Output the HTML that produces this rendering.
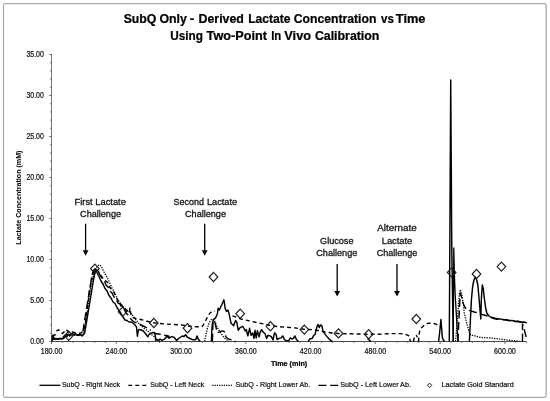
<!DOCTYPE html>
<html lang="en"><head><meta charset="utf-8"><title>SubQ Only - Derived Lactate Concentration vs Time</title>
<style>html,body{margin:0;padding:0;background:#fff;}body{width:550px;height:401px;overflow:hidden;}svg{display:block;}text{font-family:"Liberation Sans", "DejaVu Sans", sans-serif;}</style>
</head><body>
<svg width="550" height="401" viewBox="0 0 550 401">
<defs><filter id="soft" x="0" y="0" width="550" height="401" filterUnits="userSpaceOnUse"><feGaussianBlur stdDeviation="0.35"/></filter></defs>
<rect x="0" y="0" width="550" height="401" fill="#fff"/>
<g filter="url(#soft)">
<rect x="3.5" y="3.7" width="542.7" height="393.6" rx="1.5" fill="#fff" stroke="#a6a6a6" stroke-width="1.2"/>
<text y="23.0" font-size="11.90" font-weight="bold" fill="#000" stroke="#000" stroke-width="0.22"><tspan x="123.7" textLength="32.7" lengthAdjust="spacingAndGlyphs">SubQ</tspan> <tspan x="159.4" textLength="27.4" lengthAdjust="spacingAndGlyphs">Only</tspan> <tspan x="189.8" textLength="4.6" lengthAdjust="spacingAndGlyphs">-</tspan> <tspan x="198.5" textLength="45.4" lengthAdjust="spacingAndGlyphs">Derived</tspan> <tspan x="248.2" textLength="42.4" lengthAdjust="spacingAndGlyphs">Lactate</tspan> <tspan x="293.8" textLength="82.6" lengthAdjust="spacingAndGlyphs">Concentration</tspan> <tspan x="381.1" textLength="12.8" lengthAdjust="spacingAndGlyphs">vs</tspan> <tspan x="395.8" textLength="29.7" lengthAdjust="spacingAndGlyphs">Time</tspan></text>
<text y="40.3" font-size="11.90" font-weight="bold" fill="#000" stroke="#000" stroke-width="0.22"><tspan x="170.3" textLength="32.7" lengthAdjust="spacingAndGlyphs">Using</tspan> <tspan x="206.6" textLength="60.5" lengthAdjust="spacingAndGlyphs">Two-Point</tspan> <tspan x="271.2" textLength="10.1" lengthAdjust="spacingAndGlyphs">In</tspan> <tspan x="284.3" textLength="26.8" lengthAdjust="spacingAndGlyphs">Vivo</tspan> <tspan x="314.9" textLength="64.5" lengthAdjust="spacingAndGlyphs">Calibration</tspan></text>
<g stroke="#757575" stroke-width="1" fill="none">
<path d="M51.5 54 V342"/>
<path d="M51 341.5 H526.5" stroke="#4a4a4a" stroke-width="1"/>
<path d="M49.2 341.5 H51.5M50 333.3 H51.5M50 325.1 H51.5M50 316.9 H51.5M50 308.7 H51.5M49.2 300.5 H51.5M50 292.3 H51.5M50 284.1 H51.5M50 275.9 H51.5M50 267.7 H51.5M49.2 259.5 H51.5M50 251.3 H51.5M50 243.1 H51.5M50 234.9 H51.5M50 226.7 H51.5M49.2 218.5 H51.5M50 210.3 H51.5M50 202.1 H51.5M50 193.9 H51.5M50 185.7 H51.5M49.2 177.5 H51.5M50 169.3 H51.5M50 161.1 H51.5M50 152.9 H51.5M50 144.7 H51.5M49.2 136.5 H51.5M50 128.3 H51.5M50 120.1 H51.5M50 111.9 H51.5M50 103.7 H51.5M49.2 95.5 H51.5M50 87.3 H51.5M50 79.1 H51.5M50 70.9 H51.5M50 62.7 H51.5M49.2 54.5 H51.5"/>
<path d="M51.5 341.5 V344M62.3 341.5 V343M73.1 341.5 V343M83.9 341.5 V343M94.7 341.5 V343M105.5 341.5 V343M116.3 341.5 V344M127.1 341.5 V343M137.9 341.5 V343M148.7 341.5 V343M159.4 341.5 V343M170.2 341.5 V343M181.0 341.5 V344M191.8 341.5 V343M202.6 341.5 V343M213.4 341.5 V343M224.2 341.5 V343M235.0 341.5 V343M245.8 341.5 V344M256.6 341.5 V343M267.4 341.5 V343M278.2 341.5 V343M289.0 341.5 V343M299.8 341.5 V343M310.6 341.5 V344M321.4 341.5 V343M332.2 341.5 V343M343.0 341.5 V343M353.8 341.5 V343M364.6 341.5 V343M375.3 341.5 V344M386.1 341.5 V343M396.9 341.5 V343M407.7 341.5 V343M418.5 341.5 V343M429.3 341.5 V343M440.1 341.5 V344M450.9 341.5 V343M461.7 341.5 V343M472.5 341.5 V343M483.3 341.5 V343M494.1 341.5 V343M504.9 341.5 V344M515.7 341.5 V343M526.5 341.5 V343"/>
</g>
<text x="30.2" y="344.1" font-size="8.30" font-weight="normal" text-anchor="start" fill="#111" stroke="#111" stroke-width="0.22" textLength="13.6" lengthAdjust="spacingAndGlyphs">0.00</text>
<text x="30.2" y="303.1" font-size="8.30" font-weight="normal" text-anchor="start" fill="#111" stroke="#111" stroke-width="0.22" textLength="13.6" lengthAdjust="spacingAndGlyphs">5.00</text>
<text x="26.4" y="262.1" font-size="8.30" font-weight="normal" text-anchor="start" fill="#111" stroke="#111" stroke-width="0.22" textLength="17.4" lengthAdjust="spacingAndGlyphs">10.00</text>
<text x="26.4" y="221.1" font-size="8.30" font-weight="normal" text-anchor="start" fill="#111" stroke="#111" stroke-width="0.22" textLength="17.4" lengthAdjust="spacingAndGlyphs">15.00</text>
<text x="26.4" y="180.1" font-size="8.30" font-weight="normal" text-anchor="start" fill="#111" stroke="#111" stroke-width="0.22" textLength="17.4" lengthAdjust="spacingAndGlyphs">20.00</text>
<text x="26.4" y="139.1" font-size="8.30" font-weight="normal" text-anchor="start" fill="#111" stroke="#111" stroke-width="0.22" textLength="17.4" lengthAdjust="spacingAndGlyphs">25.00</text>
<text x="26.4" y="98.1" font-size="8.30" font-weight="normal" text-anchor="start" fill="#111" stroke="#111" stroke-width="0.22" textLength="17.4" lengthAdjust="spacingAndGlyphs">30.00</text>
<text x="26.4" y="57.1" font-size="8.30" font-weight="normal" text-anchor="start" fill="#111" stroke="#111" stroke-width="0.22" textLength="17.4" lengthAdjust="spacingAndGlyphs">35.00</text>
<text x="40.7" y="354.2" font-size="8.30" font-weight="normal" text-anchor="start" fill="#111" stroke="#111" stroke-width="0.22" textLength="21.7" lengthAdjust="spacingAndGlyphs">180.00</text>
<text x="105.5" y="354.2" font-size="8.30" font-weight="normal" text-anchor="start" fill="#111" stroke="#111" stroke-width="0.22" textLength="21.7" lengthAdjust="spacingAndGlyphs">240.00</text>
<text x="170.2" y="354.2" font-size="8.30" font-weight="normal" text-anchor="start" fill="#111" stroke="#111" stroke-width="0.22" textLength="21.7" lengthAdjust="spacingAndGlyphs">300.00</text>
<text x="235.0" y="354.2" font-size="8.30" font-weight="normal" text-anchor="start" fill="#111" stroke="#111" stroke-width="0.22" textLength="21.7" lengthAdjust="spacingAndGlyphs">360.00</text>
<text x="299.8" y="354.2" font-size="8.30" font-weight="normal" text-anchor="start" fill="#111" stroke="#111" stroke-width="0.22" textLength="21.7" lengthAdjust="spacingAndGlyphs">420.00</text>
<text x="364.5" y="354.2" font-size="8.30" font-weight="normal" text-anchor="start" fill="#111" stroke="#111" stroke-width="0.22" textLength="21.7" lengthAdjust="spacingAndGlyphs">480.00</text>
<text x="429.3" y="354.2" font-size="8.30" font-weight="normal" text-anchor="start" fill="#111" stroke="#111" stroke-width="0.22" textLength="21.7" lengthAdjust="spacingAndGlyphs">540.00</text>
<text x="494.1" y="354.2" font-size="8.30" font-weight="normal" text-anchor="start" fill="#111" stroke="#111" stroke-width="0.22" textLength="21.7" lengthAdjust="spacingAndGlyphs">600.00</text>
<text x="270.9" y="365.8" font-size="7.30" font-weight="bold" text-anchor="start" fill="#000" stroke="#000" stroke-width="0.22" textLength="36.3" lengthAdjust="spacingAndGlyphs">Time (min)</text>
<text transform="translate(21.3 244.7) rotate(-90)" font-size="7.3" font-weight="bold" textLength="94.2" lengthAdjust="spacingAndGlyphs" fill="#000">Lactate Concentration (mM)</text>
<text y="204.5" font-size="9.80" font-weight="normal" fill="#111" stroke="#111" stroke-width="0.30"><tspan x="74.6" textLength="18.1" lengthAdjust="spacingAndGlyphs">First</tspan> <tspan x="95.3" textLength="30.6" lengthAdjust="spacingAndGlyphs">Lactate</tspan></text>
<text y="217.1" font-size="9.80" font-weight="normal" fill="#111" stroke="#111" stroke-width="0.30"><tspan x="80.1" textLength="40.9" lengthAdjust="spacingAndGlyphs">Challenge</tspan></text>
<path d="M85.6 223.7 V252.8" stroke="#000" stroke-width="1.3" fill="none"/>
<path d="M82.7 250.3 L88.5 250.3 L85.6 255.8 Z" fill="#000"/>
<text y="204.5" font-size="9.80" font-weight="normal" fill="#111" stroke="#111" stroke-width="0.30"><tspan x="173.5" textLength="30.5" lengthAdjust="spacingAndGlyphs">Second</tspan> <tspan x="206.9" textLength="30.2" lengthAdjust="spacingAndGlyphs">Lactate</tspan></text>
<text y="217.1" font-size="9.80" font-weight="normal" fill="#111" stroke="#111" stroke-width="0.30"><tspan x="185.0" textLength="41.0" lengthAdjust="spacingAndGlyphs">Challenge</tspan></text>
<path d="M204.7 223.7 V252.8" stroke="#000" stroke-width="1.3" fill="none"/>
<path d="M201.8 250.3 L207.6 250.3 L204.7 255.8 Z" fill="#000"/>
<text y="243.6" font-size="9.80" font-weight="normal" fill="#111" stroke="#111" stroke-width="0.30"><tspan x="320.1" textLength="33.4" lengthAdjust="spacingAndGlyphs">Glucose</tspan></text>
<text y="256.1" font-size="9.80" font-weight="normal" fill="#111" stroke="#111" stroke-width="0.30"><tspan x="316.3" textLength="41.0" lengthAdjust="spacingAndGlyphs">Challenge</tspan></text>
<path d="M337.2 264.1 V293.4" stroke="#000" stroke-width="1.3" fill="none"/>
<path d="M334.3 290.9 L340.1 290.9 L337.2 296.4 Z" fill="#000"/>
<text y="231.2" font-size="9.80" font-weight="normal" fill="#111" stroke="#111" stroke-width="0.30"><tspan x="377.3" textLength="39.3" lengthAdjust="spacingAndGlyphs">Alternate</tspan></text>
<text y="243.6" font-size="9.80" font-weight="normal" fill="#111" stroke="#111" stroke-width="0.30"><tspan x="381.7" textLength="30.6" lengthAdjust="spacingAndGlyphs">Lactate</tspan></text>
<text y="256.1" font-size="9.80" font-weight="normal" fill="#111" stroke="#111" stroke-width="0.30"><tspan x="376.7" textLength="40.6" lengthAdjust="spacingAndGlyphs">Challenge</tspan></text>
<path d="M397.0 264.1 V293.4" stroke="#000" stroke-width="1.3" fill="none"/>
<path d="M394.1 290.9 L399.9 290.9 L397.0 296.4 Z" fill="#000"/>
<path d="M52.0 339.5 L60.0 339.0 L66.0 336.5 L72.0 335.5 L78.0 335.0 L83.0 334.5 L85.0 328.0 L87.0 314.0 L89.0 299.0 L91.0 286.0 L93.0 277.0 L95.0 271.0 L97.0 267.0 L99.0 264.8 L100.5 265.5 L102.0 268.0 L104.0 272.0 L106.0 275.5 L108.0 279.0 L110.0 283.5 L112.0 288.0 L114.5 292.5 L118.0 300.0 L123.0 306.5 L127.0 310.0 L130.0 312.5 L133.0 316.0 L136.0 320.0 L139.0 323.5 L142.0 326.5 L145.0 329.0 L148.0 331.5 L151.0 334.0 L154.0 336.5 L157.0 339.0 L160.0 341.5M204.6 341.5 L206.0 334.0 L207.5 328.0 L209.0 323.0 L210.4 320.5 L211.8 319.2 L212.9 318.9 L214.0 320.0 L215.5 323.0 L217.0 326.5 L218.5 329.5 L219.8 331.9 L221.5 334.0 L223.0 336.0 L225.0 338.5 L227.0 340.0 L229.0 341.5M455.5 341.5 L456.5 330.0 L457.5 318.0 L458.5 304.0 L459.4 294.0 L460.3 289.7 L461.5 293.0 L462.5 299.0 L463.5 305.0 L464.2 312.4 L465.5 318.0 L466.8 323.5 L468.2 328.6 L469.4 332.5 L470.6 335.0 L472.0 335.3 L474.0 335.6 L478.0 336.8 L481.0 337.5 L486.0 337.6 L492.4 338.2 L498.0 338.9 L503.7 339.6 L510.0 340.3 L516.0 340.8 L519.4 341.5" fill="none" stroke="#000" stroke-width="1.30" stroke-linejoin="round" stroke-dasharray="1.3 1.2"/>
<path d="M52.0 335.5 L55.0 335.0 L56.5 331.0 L58.5 329.8 L60.5 332.0 L62.5 333.5 L64.5 331.5 L66.0 329.5 L68.0 331.5 L70.0 333.0 L72.0 332.0 L75.0 332.8 L78.0 333.5 L81.0 333.0 L83.5 331.0 L85.0 325.0 L86.5 315.0 L88.0 303.0 L90.0 288.0 L92.0 277.0 L94.0 271.0 L96.0 269.0 L98.0 271.0 L100.0 274.0 L102.0 277.0 L104.0 279.4 L107.6 282.5 L109.7 287.3 L114.1 292.7 L117.7 300.3 L122.8 306.9 L126.0 309.8 L129.3 312.8 L130.0 308.0 L130.8 314.0 L132.3 317.5 L136.0 318.5 L142.0 319.8 L147.0 321.3 L153.8 322.8 L160.0 323.5 L165.0 324.0 L173.0 324.5 L181.0 324.9 L188.0 326.0 L196.4 326.8 L201.5 326.8 L203.0 325.5 L204.5 323.0 L206.5 319.0 L208.5 315.0 L210.5 312.5 L213.0 311.5 L215.0 311.0M232.5 315.8 L237.0 317.4 L241.0 319.0 L245.0 319.9 L250.0 321.0 L257.2 322.7 L265.4 324.3 L270.5 325.6 L278.6 326.7 L286.8 327.3 L294.9 327.9 L300.0 328.7 L304.0 329.3 L312.0 329.6 L318.0 330.5 L325.0 332.0 L332.0 333.0 L338.5 333.5 L350.0 333.8 L368.7 334.2 L380.0 334.2 L390.0 333.6 L400.0 333.6 L405.0 334.2 L408.0 335.3 L409.6 336.5 L410.2 341.5M413.4 341.5 L414.2 338.0 L415.0 335.5M416.2 335.0 L417.3 337.3M418.6 341.5 L418.8 336.0 L419.5 331.8 L420.5 328.6 L422.7 326.8 L425.0 324.5 L428.6 323.2 L432.3 323.2 L436.0 324.1 L438.6 325.5 L439.8 326.5" fill="none" stroke="#000" stroke-width="1.40" stroke-linejoin="round" stroke-dasharray="4 3"/>
<path d="M52.0 338.5 L56.0 339.0 L62.0 338.0 L66.0 334.5 L70.0 335.0 L74.0 334.0 L78.0 335.0 L81.8 334.3 L82.8 332.0 L85.3 316.0 L87.9 300.0 L90.2 286.0 L91.9 276.0 L93.2 270.5 L94.8 269.0 L96.0 269.0 L98.0 271.0 L100.0 275.0 L102.0 278.0 L104.0 280.0 L106.0 285.0 L108.0 287.0 L110.0 291.0 L112.0 293.0 L114.0 297.0 L116.0 299.0 L118.0 303.0 L120.0 304.0 L122.0 308.0 L124.0 309.0 L126.0 313.0 L128.0 315.0 L130.0 318.0 L133.5 321.7 L138.0 323.5 L142.0 325.3 L147.0 328.0 L150.8 330.4M212.4 341.5 L213.0 322.0 L214.5 320.5 L215.5 325.0 L216.5 329.5 L217.4 332.8 L219.5 331.8 L222.0 330.9 L224.0 331.5 L225.2 332.2 L225.8 336.7 L227.5 338.2 L229.0 339.3 L231.0 339.6 L233.0 340.0 L235.6 341.5M457.9 341.5 L459.0 318.0 L460.2 293.0 L461.5 297.0 L463.0 303.0 L464.8 307.0 L466.5 309.3 L470.0 310.7 L474.3 312.0 L478.0 313.0 L482.0 314.5 L486.0 315.5 L490.0 316.8 L495.0 318.2 L500.0 319.0 L505.0 319.8 L510.0 320.4 L515.0 321.2 L520.0 321.8 L522.5 322.5M522.5 341.5 L522.5 324.0 L523.5 327.0 L526.3 337.4" fill="none" stroke="#000" stroke-width="1.40" stroke-linejoin="round" stroke-dasharray="8 3.5"/>
<path d="M453.2 341.5 L453.8 248.0 L454.4 275.0 L455.2 295.0 L457.9 341.5" fill="none" stroke="#000" stroke-width="1.30" stroke-linejoin="round"/>
<path d="M154.0 333.5 L160.7 334.3M164.2 335.2 L168.0 335.7 L169.5 336.8" fill="none" stroke="#000" stroke-width="1.40" stroke-linejoin="round"/>
<path d="M52.0 341.5 L52.3 336.5 L53.0 339.5 L53.6 336.8 L54.5 339.3 L56.0 338.5 L58.0 339.2 L60.0 338.5 L62.0 339.0 L64.0 338.0 L65.5 335.5 L67.0 336.5 L68.5 334.0 L70.0 335.5 L72.0 333.5 L74.0 335.0 L76.0 334.0 L78.0 335.5 L80.0 334.5 L82.0 336.0 L83.8 334.5 L84.8 332.5 L85.7 327.0 L87.2 318.0 L89.4 305.0 L91.8 290.0 L93.7 279.0 L95.0 272.0 L95.8 269.5 L97.0 272.5 L99.0 276.5 L101.0 281.0 L103.0 284.0 L105.0 288.5 L107.0 291.0 L109.0 295.5 L111.0 298.0 L113.0 302.0 L115.0 303.5 L117.0 307.5 L119.0 310.5 L121.0 313.5 L123.0 317.0 L125.0 320.0 L127.0 320.5 L129.0 322.0 L131.0 322.0 L133.5 323.5 L135.0 325.0 L136.5 327.0 L137.4 336.2 L138.2 331.0 L139.0 329.5 L141.0 330.0 L143.0 330.7 L145.0 333.0 L147.9 336.7 L149.0 334.5 L150.3 333.7 L152.0 332.8 L153.5 332.5 L155.0 333.0 L155.6 340.3 L157.0 339.5 L158.5 340.5 L160.0 339.0 L162.0 340.3 L164.5 339.2 L167.0 336.0 L169.0 338.2 L171.5 336.6 L174.0 337.3 L176.6 340.5 L179.2 338.0 L182.4 336.0 L184.0 336.5 L185.5 334.7 L187.5 337.3 L190.0 338.5 L193.2 339.8 L195.7 339.8 L197.0 336.0 L198.3 339.2 L200.2 341.5M211.4 341.5 L211.8 330.0 L212.6 322.0 L213.5 319.8 L215.5 317.9 L217.4 314.0 L218.1 308.2 L219.4 310.1 L220.6 307.0 L222.0 304.3 L223.0 302.0 L223.9 299.8 L224.6 304.0 L225.2 308.8 L226.5 311.4 L228.0 310.1 L229.0 313.5 L229.7 316.6 L231.0 323.1 L232.3 324.5 L233.6 325.7 L234.6 323.0 L235.6 320.5 L236.9 322.4 L237.6 327.0 L238.2 330.2 L240.1 327.6 L242.7 326.3 L244.0 328.5 L245.3 330.9 L246.3 329.5 L247.2 333.5 L247.9 335.9 L249.6 328.3 L251.1 335.4 L252.7 332.8 L254.0 338.4 L255.0 330.3 L256.2 337.9 L257.4 330.8 L259.1 336.9 L260.3 331.8 L261.8 329.8 L263.3 332.3 L264.9 333.3 L266.6 338.4 L267.9 335.4 L270.0 335.9 L271.5 336.9 L273.0 340.0 L274.5 332.8 L276.1 334.4 L277.1 339.5 L279.1 338.4 L281.2 337.9 L282.7 335.9 L284.2 339.0 L285.8 340.7 L288.8 340.7 L290.3 337.9 L291.9 339.0 L293.4 338.4 L294.9 335.9 L296.4 339.5 L298.5 341.5M308.3 341.5 L309.6 339.0 L311.0 338.8 L312.4 338.1 L313.7 335.4 L315.1 334.5 L316.0 330.4 L316.7 327.6 L317.8 324.5 L318.5 325.5 L319.2 327.6 L320.5 324.9 L321.9 325.8 L322.8 330.4 L324.2 333.1 L326.0 335.4 L327.8 337.6 L330.1 339.9 L332.4 341.5M367.5 338.6 L371.0 341.5M438.6 341.5 L439.6 333.0 L440.9 319.5 L441.6 328.0 L442.3 337.3 L443.3 340.0 L444.5 341.5M449.3 341.5 L449.8 250.0 L450.7 80.0 L451.8 250.0 L453.3 341.5M469.4 341.5 L470.3 322.0 L471.4 300.0 L472.6 287.0 L473.9 280.0 L475.4 277.0 L476.7 280.0 L477.9 285.5 L479.0 298.0 L480.1 311.0 L480.8 319.0 L481.3 300.0 L482.3 285.0 L483.3 289.0 L484.3 298.0 L485.5 307.0 L486.8 313.0 L489.0 316.0 L491.3 317.5 L494.0 318.5 L497.0 319.3 L500.0 318.9 L503.7 319.9 L506.0 319.7 L509.0 320.8 L512.0 320.4 L515.0 321.5 L518.0 321.2 L521.0 322.2 L524.0 322.0 L526.8 322.9" fill="none" stroke="#000" stroke-width="1.45" stroke-linejoin="round"/>
<path d="M64.4 335.8 L68.7 331.2 L73.0 335.8 L68.7 340.4 Z" fill="none" stroke="#1c1c1c" stroke-width="1.15"/>
<path d="M90.6 268.7 L94.9 264.1 L99.2 268.7 L94.9 273.3 Z" fill="none" stroke="#1c1c1c" stroke-width="1.15"/>
<path d="M118.2 311.8 L122.5 307.2 L126.8 311.8 L122.5 316.4 Z" fill="none" stroke="#1c1c1c" stroke-width="1.15"/>
<path d="M149.5 323.0 L153.8 318.4 L158.1 323.0 L153.8 327.6 Z" fill="none" stroke="#1c1c1c" stroke-width="1.15"/>
<path d="M183.2 328.2 L187.5 323.6 L191.8 328.2 L187.5 332.8 Z" fill="none" stroke="#1c1c1c" stroke-width="1.15"/>
<path d="M209.2 277.0 L213.5 272.4 L217.8 277.0 L213.5 281.6 Z" fill="none" stroke="#1c1c1c" stroke-width="1.15"/>
<path d="M235.9 313.7 L240.2 309.1 L244.5 313.7 L240.2 318.3 Z" fill="none" stroke="#1c1c1c" stroke-width="1.15"/>
<path d="M266.1 326.3 L270.4 321.7 L274.7 326.3 L270.4 330.9 Z" fill="none" stroke="#1c1c1c" stroke-width="1.15"/>
<path d="M300.0 329.6 L304.3 325.0 L308.6 329.6 L304.3 334.2 Z" fill="none" stroke="#1c1c1c" stroke-width="1.15"/>
<path d="M334.2 333.4 L338.5 328.8 L342.8 333.4 L338.5 338.0 Z" fill="none" stroke="#1c1c1c" stroke-width="1.15"/>
<path d="M364.4 334.2 L368.7 329.6 L373.0 334.2 L368.7 338.8 Z" fill="none" stroke="#1c1c1c" stroke-width="1.15"/>
<path d="M412.0 319.0 L416.3 314.4 L420.6 319.0 L416.3 323.6 Z" fill="none" stroke="#1c1c1c" stroke-width="1.15"/>
<path d="M447.4 272.4 L451.7 267.8 L456.0 272.4 L451.7 277.0 Z" fill="none" stroke="#1c1c1c" stroke-width="1.15"/>
<path d="M472.2 274.0 L476.5 269.4 L480.8 274.0 L476.5 278.6 Z" fill="none" stroke="#1c1c1c" stroke-width="1.15"/>
<path d="M497.1 266.6 L501.4 262.0 L505.7 266.6 L501.4 271.2 Z" fill="none" stroke="#1c1c1c" stroke-width="1.15"/>
<path d="M39.5 385.3 H60.3" stroke="#000" stroke-width="1.3"/>
<text x="61.9" y="387.3" font-size="7.80" font-weight="normal" text-anchor="start" fill="#111" stroke="#111" stroke-width="0.22" textLength="58.2" lengthAdjust="spacingAndGlyphs">SubQ - Right Neck</text>
<path d="M128.3 385.3 H148.4" stroke="#000" stroke-width="1.3" stroke-dasharray="4 3"/>
<text x="150.3" y="387.3" font-size="7.80" font-weight="normal" text-anchor="start" fill="#111" stroke="#111" stroke-width="0.22" textLength="53.9" lengthAdjust="spacingAndGlyphs">SubQ - Left Neck</text>
<path d="M212.3 385.3 H231.9" stroke="#000" stroke-width="1.3" stroke-dasharray="1.2 1.1"/>
<text x="235.5" y="387.3" font-size="7.80" font-weight="normal" text-anchor="start" fill="#111" stroke="#111" stroke-width="0.22" textLength="74.7" lengthAdjust="spacingAndGlyphs">SubQ - Right Lower Ab.</text>
<path d="M318.4 385.3 H338.3" stroke="#000" stroke-width="1.3" stroke-dasharray="8 3.8"/>
<text x="340.3" y="387.3" font-size="7.80" font-weight="normal" text-anchor="start" fill="#111" stroke="#111" stroke-width="0.22" textLength="70.6" lengthAdjust="spacingAndGlyphs">SubQ - Left Lower Ab.</text>
<path d="M427.4 385.3 L429.6 383.1 L431.8 385.3 L429.6 387.5 Z" fill="none" stroke="#1a1a1a" stroke-width="1"/>
<text x="441.5" y="387.3" font-size="7.80" font-weight="normal" text-anchor="start" fill="#111" stroke="#111" stroke-width="0.22" textLength="72.3" lengthAdjust="spacingAndGlyphs">Lactate Gold Standard</text>
</g>
</svg>
</body></html>
